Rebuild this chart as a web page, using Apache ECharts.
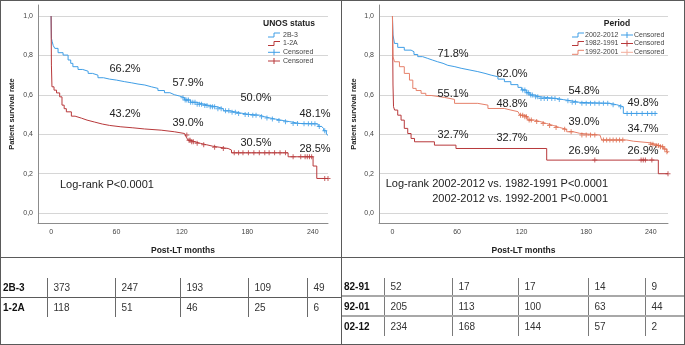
<!DOCTYPE html>
<html>
<head>
<meta charset="utf-8">
<script src="https://cdn.jsdelivr.net/npm/echarts@6/dist/echarts.min.js"></script>
<style>
  html, body { margin:0; padding:0; background:#fff; }
  #wrap { position:relative; width:685px; height:345px; font-family:"Liberation Sans", Arial, sans-serif; }
  #chart { position:absolute; left:0; top:0; width:685px; height:345px; }
  .ln { position:absolute; background:#5a5a5a; }
  table.risk { position:absolute; border-collapse:collapse; table-layout:fixed; font-size:10px; color:#333; }
  table.risk td { padding:0 0 0 6px; white-space:nowrap; overflow:hidden; }
  table.risk td.lab { font-weight:bold; color:#111; padding-left:2px; }
</style>
</head>
<body>
<div id="wrap">
  <div id="chart"></div>
  <div class="ln" style="left:0;top:0;width:685px;height:1px"></div>
  <div class="ln" style="left:0;top:344px;width:685px;height:1px"></div>
  <div class="ln" style="left:0;top:0;width:1px;height:345px"></div>
  <div class="ln" style="left:684px;top:0;width:1px;height:345px"></div>
  <div class="ln" style="left:341px;top:0;width:1px;height:345px"></div>
  <div class="ln" style="left:0;top:257px;width:685px;height:1px"></div>
  <table class="risk" id="tabLeft" style="left:1px;top:278px"></table>
  <table class="risk" id="tabRight" style="left:342px;top:278px"></table>
</div>
<script>
// tick labels
var xTicks = [0, 60, 120, 180, 240];
var yTicks = [0, 0.2, 0.4, 0.6, 0.8, 1.0];

// UNOS status curves [month, survival]
var unos2B3 = [[0,1],[0.3,0.887],[1,0.87],[2,0.85],[3.4,0.836],[6.4,0.814],[11,0.802],[15.6,0.777],[18,0.76],[20,0.743],[24.7,0.729],[29,0.72],[34,0.709],[38,0.7],[43,0.687],[48,0.68],[53.7,0.675],[60,0.667],[67.5,0.661],[74,0.655],[79.7,0.65],[86,0.641],[92,0.633],[98,0.622],[104,0.611],[109,0.601],[113,0.594],[118,0.585],[122.5,0.574],[128,0.562],[133.5,0.553],[140,0.546],[145.6,0.54],[152,0.53],[158,0.519],[164,0.512],[170,0.506],[176,0.501],[182,0.497],[191.4,0.489],[196,0.483],[200.6,0.477],[206,0.47],[212.8,0.464],[219,0.455],[228,0.453],[243,0.452],[245,0.44],[248,0.43],[250,0.418],[252.5,0.401],[254,0.395]];
var unos12A = [[0,1],[0.3,0.751],[0.8,0.641],[2.7,0.624],[5,0.61],[7.9,0.59],[10,0.548],[12,0.53],[14,0.514],[18.6,0.492],[22,0.482],[27.8,0.472],[33,0.462],[40,0.452],[47,0.445],[53.7,0.438],[64,0.433],[75,0.427],[85.8,0.421],[101,0.413],[113,0.404],[122.5,0.396],[124,0.385],[125.8,0.37],[128,0.362],[132,0.354],[137,0.347],[142.6,0.34],[148,0.334],[154.8,0.328],[162.4,0.32],[165.5,0.306],[217.4,0.286],[240.3,0.239],[243.7,0.176],[254,0.176]];
var cens2B3 = [[121,0.585],[123,0.574],[124.5,0.574],[126,0.574],[128,0.562],[130,0.562],[132,0.562],[134,0.553],[136,0.553],[138,0.553],[141,0.546],[143,0.546],[146,0.54],[148,0.54],[150,0.54],[153,0.53],[156,0.53],[160,0.519],[163,0.519],[166,0.512],[169,0.512],[172,0.506],[178,0.501],[181,0.501],[185,0.497],[188,0.497],[193,0.489],[198,0.483],[203,0.477],[209,0.47],[215,0.464],[222,0.455],[226,0.455],[232,0.453],[236,0.453],[239,0.453],[242,0.453],[246,0.44],[251,0.418]];
var cens12A = [[124.5,0.396],[126.5,0.37],[127.5,0.37],[129,0.362],[130.5,0.362],[134,0.354],[140,0.347],[150,0.334],[158,0.328],[168,0.306],[172,0.306],[176,0.306],[181,0.306],[186,0.306],[191,0.306],[196,0.306],[200,0.306],[205,0.306],[210,0.306],[215,0.306],[222,0.286],[229,0.286],[233,0.286],[235,0.286],[237,0.286],[239,0.286],[251,0.176],[254,0.176]];

// Period curves [month, survival]
var per0212 = [[0,1],[0.5,0.904],[1.9,0.861],[4.9,0.841],[11,0.827],[17.3,0.819],[20,0.805],[23.5,0.794],[28,0.785],[32.8,0.777],[37,0.768],[42,0.76],[47,0.75],[51.4,0.743],[58,0.735],[63.8,0.726],[72,0.718],[79.3,0.709],[86,0.7],[91.7,0.692],[98,0.68],[104,0.667],[110,0.652],[116.6,0.638],[120,0.625],[124.3,0.611],[127.7,0.599],[132,0.59],[137,0.582],[152.5,0.576],[158.7,0.57],[166,0.562],[174,0.557],[202,0.55],[208.4,0.54],[214.5,0.506],[245.6,0.506]];
var per8291 = [[0,1],[0.5,0.65],[1,0.54],[2,0.523],[4.9,0.497],[8,0.472],[11,0.43],[14.2,0.404],[17.3,0.379],[20.5,0.362],[39,0.345],[59,0.328],[143.3,0.269],[247,0.2],[256,0.2]];
var per9201 = [[0,1],[0.5,0.794],[1.9,0.768],[6.5,0.743],[11,0.709],[15.8,0.675],[18.9,0.633],[22,0.622],[26.6,0.608],[31,0.597],[35.9,0.587],[48.4,0.577],[57.7,0.557],[79.3,0.548],[88.7,0.531],[104,0.523],[110,0.515],[116.6,0.506],[118.4,0.497],[122.8,0.489],[125.7,0.472],[132,0.465],[137,0.455],[143,0.445],[149.4,0.435],[155,0.425],[161.9,0.413],[168,0.405],[174,0.396],[192.8,0.387],[194.4,0.371],[217.7,0.365],[223.8,0.357],[239.3,0.35],[244,0.343],[248.6,0.337],[252,0.325],[254.9,0.311],[256,0.305]];
var cens0212 = [[121,0.625],[123,0.625],[125,0.611],[126.5,0.611],[128.5,0.599],[130,0.599],[133,0.59],[135,0.59],[138,0.582],[141,0.582],[144,0.582],[148,0.582],[151,0.582],[155,0.576],[163,0.57],[167,0.562],[170,0.562],[176,0.557],[180,0.557],[184,0.557],[188,0.557],[192,0.557],[196,0.557],[200,0.557],[205,0.55],[212,0.54],[218,0.506],[222,0.506],[227,0.506],[232,0.506],[237,0.506],[241,0.506],[244,0.506]];
var cens8291 = [[188,0.269],[231,0.269],[233,0.269],[235,0.269],[241,0.269],[256,0.2]];
var cens9201 = [[119,0.497],[121,0.497],[123,0.489],[124.5,0.489],[127,0.472],[129,0.472],[134,0.465],[140,0.455],[146,0.445],[152,0.435],[160,0.425],[166,0.413],[176,0.396],[180,0.396],[184,0.396],[188,0.396],[196,0.371],[199,0.371],[202,0.371],[205,0.371],[208,0.371],[211,0.371],[214,0.371],[240,0.35],[242,0.35],[245,0.343],[247,0.343],[249,0.337],[251,0.337],[253,0.325],[255,0.311]];

// numbers at risk
var riskLabelsLeft = ['2B-3', '1-2A'];
var risk2B3 = [373, 247, 193, 109, 49];
var risk12A = [118, 51, 46, 25, 6];
var riskLabelsRight = ['82-91', '92-01', '02-12'];
var risk8291 = [52, 17, 17, 14, 9];
var risk9201 = [205, 113, 100, 63, 44];
var risk0212 = [234, 168, 144, 57, 2];

var BLUE = '#3f9ee6', RED = '#b8393b', SALMON = '#e6806a', SALMON_C = '#dc6848';
var crossSym = 'path://M0,4H10V6H0Z M4,0H6V10H4Z';
var FONT = '"Liberation Sans", Arial, sans-serif';

function xAxisCfg(g, mn, mx) {
  return {
    type: 'value', gridIndex: g, min: mn, max: mx,
    axisLine: { show: true, onZero: false, lineStyle: { color: '#8c8c8c', width: 1 } },
    axisTick: { show: false, customValues: xTicks },
    axisLabel: { customValues: xTicks, fontSize: 7, color: '#444', margin: 6, fontFamily: FONT },
    splitLine: { show: false },
    name: 'Post-LT months', nameLocation: 'middle', nameGap: 23,
    nameTextStyle: { fontWeight: 'bold', fontSize: 8.5, color: '#222', fontFamily: FONT }
  };
}
function yAxisCfg(g, gap) {
  return {
    type: 'value', gridIndex: g, min: -0.05, max: 1.056,
    axisLine: { show: true, onZero: false, lineStyle: { color: '#8c8c8c', width: 1 } },
    axisTick: { show: false, customValues: yTicks },
    axisLabel: { customValues: yTicks, fontSize: 7, color: '#444', margin: 5, fontFamily: FONT,
      formatter: function (v) { return v.toFixed(1).replace('.', ','); } },
    splitLine: { show: true, lineStyle: { color: '#d6d6d6', width: 1 } },
    name: 'Patient survival rate', nameLocation: 'middle', nameGap: gap, nameRotate: 90,
    nameTextStyle: { fontWeight: 'bold', fontSize: 7.5, color: '#222', fontFamily: FONT, padding: [0, 0, 0, 0] }
  };
}
function km(name, data, color, g) {
  return { name: name, type: 'line', step: 'end', xAxisIndex: g, yAxisIndex: g, data: data,
    showSymbol: false, symbol: 'none', lineStyle: { color: color, width: 1 }, z: 3 };
}
function cens(data, color, g) {
  return { name: 'Censored', type: 'scatter', xAxisIndex: g, yAxisIndex: g, data: data,
    symbol: crossSym, symbolSize: 5, itemStyle: { color: color }, z: 4 };
}
function txt(s, x, y, opt) {
  opt = opt || {};
  return { type: 'text', x: x, y: y, z: 10, style: {
    text: s, fill: opt.fill || '#222', font: (opt.weight || 'normal') + ' ' + (opt.size || 11) + 'px ' + FONT,
    textAlign: opt.align || 'center', textVerticalAlign: 'middle', verticalAlign: 'middle' } };
}
function stepIcon(x, y, color) {
  return { type: 'polyline', z: 10, shape: { points: [[x, y + 2], [x + 6, y + 2], [x + 6, y - 2], [x + 12, y - 2]] },
    style: { stroke: color, lineWidth: 1, fill: null } };
}
function crossIcon(x, y, color) {
  return { type: 'polyline', z: 10, shape: { points: [[x, y], [x + 12, y]] }, style: { stroke: color, lineWidth: 1, fill: null } };
}
function crossV(x, y, color) {
  return { type: 'polyline', z: 10, shape: { points: [[x + 6, y - 3], [x + 6, y + 3]] }, style: { stroke: color, lineWidth: 1, fill: null } };
}

var LEG = { size: 7, align: 'left', fill: '#444' };
var graphics = [
  // left legend
  txt('UNOS status', 289, 24, { weight: 'bold', size: 8.5 }),
  stepIcon(268, 35, BLUE), txt('2B-3', 283, 35, LEG),
  stepIcon(268, 43.5, RED), txt('1-2A', 283, 43.5, LEG),
  crossIcon(268, 52.3, BLUE), crossV(268, 52.3, BLUE), txt('Censored', 283, 52.3, LEG),
  crossIcon(268, 61, RED), crossV(268, 61, RED), txt('Censored', 283, 61, LEG),
  // right legend
  txt('Period', 617, 24, { weight: 'bold', size: 8.5 }),
  stepIcon(572, 35, BLUE), txt('2002-2012', 585, 35, LEG),
  stepIcon(572, 43.5, RED), txt('1982-1991', 585, 43.5, LEG),
  stepIcon(572, 52.3, SALMON), txt('1992-2001', 585, 52.3, LEG),
  crossIcon(621, 35, BLUE), crossV(621, 35, BLUE), txt('Censored', 634, 35, LEG),
  crossIcon(621, 43.5, RED), crossV(621, 43.5, RED), txt('Censored', 634, 43.5, LEG),
  crossIcon(621, 52.3, '#f2ad9c'), crossV(621, 52.3, '#f2ad9c'), txt('Censored', 634, 52.3, LEG),
  // left annotations
  txt('66.2%', 125, 69), txt('57.9%', 188, 83), txt('50.0%', 256, 98), txt('48.1%', 315, 114),
  txt('43.2%', 125, 114), txt('39.0%', 188, 123), txt('30.5%', 256, 143), txt('28.5%', 315, 149),
  txt('Log-rank P<0.0001', 60, 185, { align: 'left' }),
  // right annotations
  txt('71.8%', 453, 54), txt('62.0%', 512, 74), txt('54.8%', 584, 91), txt('49.8%', 643, 103),
  txt('55.1%', 453, 94), txt('48.8%', 512, 104), txt('39.0%', 584, 122), txt('34.7%', 643, 129),
  txt('32.7%', 453, 135), txt('32.7%', 512, 138), txt('26.9%', 584, 151), txt('26.9%', 643, 151),
  txt('Log-rank 2002-2012 vs. 1982-1991 P<0.0001', 608, 184, { align: 'right' }),
  txt('2002-2012 vs. 1992-2001 P<0.0001', 608, 199, { align: 'right' })
];

var chart = echarts.init(document.getElementById('chart'));
var option = {
  animation: false,
  backgroundColor: '#fff',
  grid: [
    { left: 38, top: 5, width: 290, height: 218 },
    { left: 379, top: 5, width: 289, height: 218 }
  ],
  xAxis: [xAxisCfg(0, -12, 254), xAxisCfg(1, -12.5, 256)],
  yAxis: [yAxisCfg(0, 22), yAxisCfg(1, 21)],
  series: [
    km('2B-3', unos2B3, BLUE, 0),
    km('1-2A', unos12A, RED, 0),
    cens(cens2B3, BLUE, 0),
    cens(cens12A, RED, 0),
    km('2002-2012', per0212, BLUE, 1),
    km('1982-1991', per8291, RED, 1),
    km('1992-2001', per9201, SALMON, 1),
    cens(cens0212, BLUE, 1),
    cens(cens8291, RED, 1),
    cens(cens9201, SALMON_C, 1)
  ],
  graphic: graphics
};
chart.setOption(option);

// numbers-at-risk tables
function buildTable(id, labels, rows, widths, heights, hBorder, vBorder) {
  var t = document.getElementById(id);
  var html = '<colgroup>';
  widths.forEach(function (w) { html += '<col style="width:' + w + 'px">'; });
  html += '</colgroup>';
  rows.forEach(function (r, i) {
    html += '<tr style="height:' + heights[i] + 'px">';
    var top = i > 0 ? 'border-top:' + hBorder + ';' : '';
    html += '<td class="lab" style="' + top + '">' + labels[i] + '</td>';
    r.forEach(function (v) {
      html += '<td style="' + top + 'border-left:' + vBorder + '">' + v + '</td>';
    });
    html += '</tr>';
  });
  t.innerHTML = html;
}
buildTable('tabLeft', riskLabelsLeft, [risk2B3, risk12A], [46, 68, 65, 68, 59, 34], [19, 20], '1px solid #5a5a5a', '1px solid #6a6a6a');
buildTable('tabRight', riskLabelsRight, [risk8291, risk9201, risk0212], [42, 68, 66, 70, 57, 39], [18, 20, 20], '2px solid #a8a8a8', '1px solid #7a7a7a');
</script>
</body>
</html>
